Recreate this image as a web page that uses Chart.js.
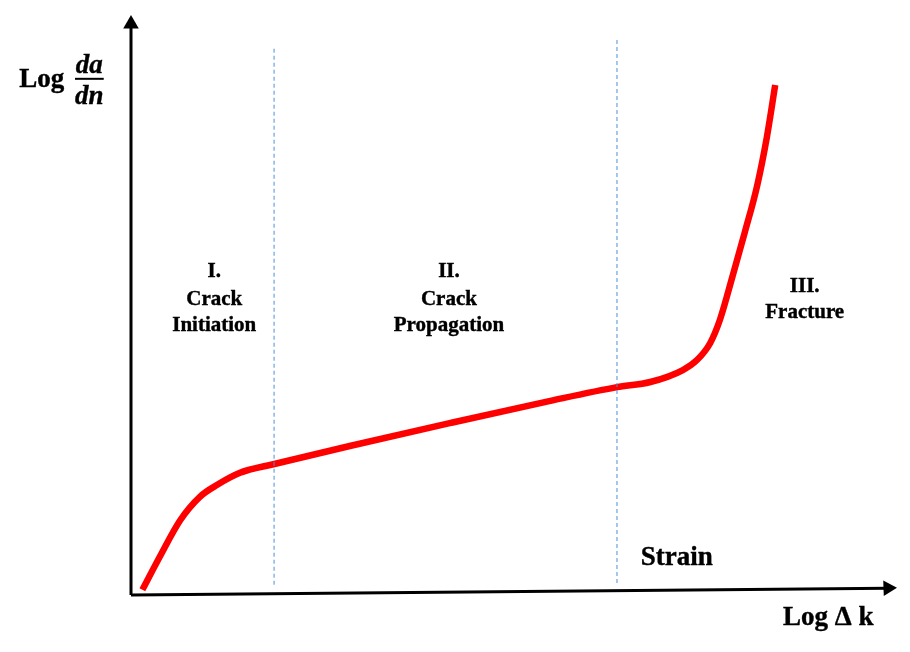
<!DOCTYPE html>
<html>
<head>
<meta charset="utf-8">
<script src="https://cdn.jsdelivr.net/npm/chart.js@4"></script>
<style>
html,body{margin:0;padding:0;background:#fff;}
#wrap{width:910px;height:652px;}
</style>
</head>
<body>
<div id="wrap"><canvas id="c" width="910" height="652"></canvas></div>
<script>
// Curve: log(da/dn) vs log(Δk) (arbitrary units)
const curveX = [0.15,0.38,0.65,0.91,1.14,1.44,1.88,2.89,4.21,5.54,6.42,6.86,7.29,7.48,7.65,7.78,7.95,8.11,8.27,8.40,8.51];
const curveY = [0.09,0.67,1.31,1.72,1.93,2.14,2.29,2.61,3.01,3.40,3.64,3.73,3.94,4.12,4.41,4.82,5.60,6.36,7.16,8.02,8.93];
// Region boundaries (dashed verticals)
const boundaryX = [1.89, 6.42];
const boundaryYStart = [0.18, 0.21];
const boundaryYEnd = [9.60, 9.72];
// Region labels
const regionLines = [["I.","Crack","Initiation"],["II.","Crack","Propagation"],["III.","Fracture"]];
const axisTitleX = "Log Δ k";
const axisTitleY = "Log";
const fracNum = "da", fracDen = "dn";
const strainLabel = "Strain";

const curve = curveX.map((x,i)=>({x:x,y:curveY[i]}));
const datasets = [
  {data:[{x:0,y:0},{x:10,y:0.12}], borderColor:'#000', borderWidth:3, pointRadius:[0,9], pointStyle:'triangle', pointRotation:[0,88], pointBackgroundColor:'#000', pointBorderWidth:0, showLine:true, clip:false},
  {data:[{x:0,y:0},{x:0,y:10}], borderColor:'#000', borderWidth:3, pointRadius:[0,9], pointStyle:'triangle', pointBackgroundColor:'#000', pointBorderWidth:0, showLine:true, clip:false},
];
boundaryX.forEach((bx,i)=>{
  datasets.push({data:[{x:bx,y:boundaryYStart[i]},{x:bx,y:boundaryYEnd[i]}], borderColor:'#4A90D9', borderWidth:1, borderDash:[4,3], pointRadius:0, showLine:true, clip:false});
});
datasets.push({data:curve, borderColor:'#FF0000', borderWidth:6.5, pointRadius:0, showLine:true, cubicInterpolationMode:'monotone', borderCapStyle:'butt', borderJoinStyle:'round', clip:false});

const labelPos = {
  regions:[{x:1.10,y:[5.67,5.18,4.71]},{x:4.20,y:[5.67,5.18,4.71]},{x:8.90,y:[5.41,4.94]}],
  strain:{x:7.21,y:0.65},
  xTitle:{x:9.21,y:-0.40},
  yTitle:{x:-1.18,y:9.02},
  frac:{x:-0.55,num:9.26,bar:9.04,den:8.72,x0:-0.74,x1:-0.36}
};

const textPlugin = {
  id:'texts',
  afterDatasetsDraw(chart){
    const ctx = chart.ctx, xs = chart.scales.x, ys = chart.scales.y;
    const px = v=>xs.getPixelForValue(v), py = v=>ys.getPixelForValue(v);
    const draw = (t,x,y)=>{ctx.fillText(t,x,y); ctx.strokeText(t,x,y);};
    ctx.save();
    ctx.fillStyle = '#000';
    ctx.strokeStyle = '#000';
    ctx.lineWidth = 0.4;
    ctx.textAlign = 'center';
    ctx.textBaseline = 'middle';
    ctx.font = 'bold 21px "Liberation Serif", "Times New Roman", serif';
    regionLines.forEach((lines,i)=>{
      lines.forEach((t,j)=>draw(t, px(labelPos.regions[i].x), py(labelPos.regions[i].y[j])));
    });
    ctx.font = 'bold 27px "Liberation Serif", "Times New Roman", serif';
    draw(strainLabel, px(labelPos.strain.x), py(labelPos.strain.y));
    draw(axisTitleX, px(labelPos.xTitle.x), py(labelPos.xTitle.y));
    draw(axisTitleY, px(labelPos.yTitle.x), py(labelPos.yTitle.y));
    ctx.font = 'italic bold 27px "Liberation Serif", "Times New Roman", serif';
    draw(fracNum, px(labelPos.frac.x), py(labelPos.frac.num));
    draw(fracDen, px(labelPos.frac.x), py(labelPos.frac.den));
    ctx.lineWidth = 2;
    ctx.beginPath();
    ctx.moveTo(px(labelPos.frac.x0), py(labelPos.frac.bar));
    ctx.lineTo(px(labelPos.frac.x1), py(labelPos.frac.bar));
    ctx.stroke();
    ctx.restore();
  }
};

new Chart(document.getElementById('c'), {
  type:'scatter',
  data:{datasets:datasets},
  options:{
    responsive:false,
    animation:false,
    layout:{padding:{left:131,right:22,top:24,bottom:57}},
    plugins:{legend:{display:false},tooltip:{enabled:false}},
    scales:{
      x:{type:'linear',min:0,max:10,display:false},
      y:{type:'linear',min:0,max:10,display:false}
    }
  },
  plugins:[textPlugin]
});
</script>
</body>
</html>
